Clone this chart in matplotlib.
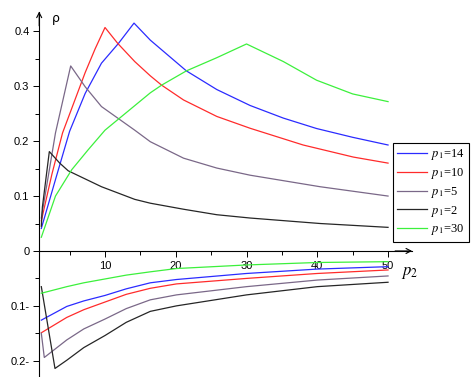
# coding: utf-8
# rho vs p2 for several p1 values (Maple-style axes through the origin)
import matplotlib
matplotlib.use("Agg")
import matplotlib.pyplot as plt
from matplotlib.ticker import MultipleLocator, FixedLocator, FuncFormatter

# ================= data =================
# upper branch
P2_UP_14 = [1.0, 3.0, 5.0, 7.2, 9.5, 11.9, 14.1, 16.4, 21.5, 25.8, 30.5, 35.2, 39.9, 45.0, 50.0]
RHO_UP_14 = [0.041, 0.130, 0.218, 0.287, 0.342, 0.378, 0.415, 0.384, 0.328, 0.294, 0.265, 0.242, 0.223, 0.207, 0.193]

P2_UP_10 = [1.0, 2.5, 4.0, 7.2, 8.6, 10.0, 11.8, 14.2, 16.4, 18.0, 21.1, 25.8, 30.5, 38.0, 45.1, 50.0]
RHO_UP_10 = [0.055, 0.140, 0.215, 0.325, 0.368, 0.407, 0.378, 0.345, 0.319, 0.302, 0.275, 0.245, 0.2235, 0.193, 0.171, 0.160]

P2_UP_5 = [1.0, 3.0, 5.15, 7.2, 9.5, 14.2, 16.4, 21.1, 25.8, 30.5, 40.4, 50.0]
RHO_UP_5 = [0.060, 0.215, 0.337, 0.299, 0.263, 0.220, 0.199, 0.169, 0.151, 0.138, 0.117, 0.100]

P2_UP_2 = [1.0, 1.15, 2.13, 3.6, 4.8, 9.5, 14.2, 16.4, 21.1, 25.8, 30.5, 40.4, 50.0]
RHO_UP_2 = [0.045, 0.080, 0.181, 0.160, 0.146, 0.117, 0.094, 0.087, 0.076, 0.066, 0.060, 0.050, 0.043]

P2_UP_30 = [1.0, 3.0, 5.3, 7.6, 10.0, 16.4, 18.0, 21.5, 25.8, 30.0, 35.2, 39.9, 45.0, 50.0]
RHO_UP_30 = [0.025, 0.100, 0.148, 0.184, 0.220, 0.288, 0.302, 0.328, 0.352, 0.377, 0.345, 0.311, 0.286, 0.272]

# lower branch
P2_LO = [1.0, 4.6, 7.0, 10.0, 13.0, 16.4, 20.1, 30.0, 40.0, 50.0]
RHO_LO_14 = [-0.126, -0.101, -0.091, -0.081, -0.069, -0.058, -0.052, -0.041, -0.033, -0.0286]
RHO_LO_10 = [-0.149, -0.121, -0.107, -0.093, -0.079, -0.068, -0.060, -0.050, -0.041, -0.0346]
RHO_LO_30 = [-0.077, -0.065, -0.058, -0.051, -0.044, -0.038, -0.032, -0.0255, -0.021, -0.0195]

P2_LO_5 = [1.0, 1.42, 4.6, 7.0, 10.0, 13.0, 16.4, 20.1, 30.0, 40.0, 50.0]
RHO_LO_5 = [-0.150, -0.194, -0.162, -0.142, -0.124, -0.105, -0.089, -0.080, -0.065, -0.053, -0.0455]

P2_LO_2 = [1.0, 2.93, 4.6, 7.0, 10.0, 13.0, 16.4, 20.1, 30.0, 40.0, 50.0]
RHO_LO_2 = [-0.065, -0.214, -0.199, -0.176, -0.154, -0.130, -0.110, -0.100, -0.080, -0.065, -0.057]

LABELS = ["14", "10", "5", "2", "30"]
X_TICKS = [10, 20, 30, 40, 50]
Y_TICKS = [-0.2, -0.1, 0.0, 0.1, 0.2, 0.3, 0.4]

# ================= style =================
COLORS = ["#2b2bff", "#ff2b2b", "#7a6888", "#262626", "#3cf03c"]
LW = 0.9

plt.rcParams["mathtext.fontset"] = "stix"
plt.rcParams["font.family"] = ["Liberation Sans", "DejaVu Sans"]

fig = plt.figure(figsize=(4.74, 3.77), dpi=100)
ax = fig.add_axes([0.0827, 0.0008, 0.7867, 0.9685])

series_up = [(P2_UP_14, RHO_UP_14), (P2_UP_10, RHO_UP_10), (P2_UP_5, RHO_UP_5),
             (P2_UP_2, RHO_UP_2), (P2_UP_30, RHO_UP_30)]
series_lo = [(P2_LO, RHO_LO_14), (P2_LO, RHO_LO_10), (P2_LO_5, RHO_LO_5),
             (P2_LO_2, RHO_LO_2), (P2_LO, RHO_LO_30)]

for (xu, yu), (xl, yl), lab, c in zip(series_up, series_lo, LABELS, COLORS):
    ax.plot(xu, yu, color=c, lw=LW, label=r"$p_1$=" + lab)
    ax.plot(xl, yl, color=c, lw=LW)

ax.set_xlim(0.7, 53.4)
ax.set_ylim(-0.229, 0.436)

# axes through origin, only left + bottom
for s in ["top", "right"]:
    ax.spines[s].set_visible(False)
ax.spines["bottom"].set_position(("data", 0))
for s in ["left", "bottom"]:
    ax.spines[s].set_linewidth(0.8)
    ax.spines[s].set_color("black")

ax.xaxis.set_major_locator(FixedLocator(X_TICKS))
ax.xaxis.set_minor_locator(MultipleLocator(5))
ax.yaxis.set_major_locator(FixedLocator(Y_TICKS))
ax.yaxis.set_minor_locator(MultipleLocator(0.05))


def y_fmt(v, pos):
    if abs(v) < 1e-9:
        return "0"
    if v < 0:
        return "%.1f-" % abs(v)
    return "%.1f" % v


ax.yaxis.set_major_formatter(FuncFormatter(y_fmt))
ax.tick_params(axis="both", which="major", direction="out", length=4, width=0.7,
               labelsize=8, pad=3, colors="black")
ax.tick_params(axis="both", which="minor", direction="out", length=3, width=0.7)

# arrow heads
arrow = dict(arrowstyle="->,head_length=0.35,head_width=0.18", lw=0.8, color="black",
             shrinkA=0, shrinkB=0)
ax.annotate("", xy=(53.4, 0), xytext=(51.0, 0), arrowprops=arrow)
ax.annotate("", xy=(0.7, 0.436), xytext=(0.7, 0.41), arrowprops=arrow)

# axis labels
ax.text(3.0, 0.4235, "ρ", fontsize=9, ha="center", va="center", family="DejaVu Sans")
ax.text(53.1, -0.040, r"$p_2$", fontsize=12, ha="center", va="center")

leg = fig.legend(loc="upper left", bbox_to_anchor=(393 / 474, 1 - 143 / 377),
                 frameon=True, fancybox=False, framealpha=1, edgecolor="black",
                 handlelength=2.4, handletextpad=0.3, labelspacing=0.3,
                 borderpad=0.35, borderaxespad=0,
                 prop={"family": "Liberation Serif", "size": 9})
leg.get_frame().set_linewidth(0.8)

fig.savefig("out.png", dpi=100)
